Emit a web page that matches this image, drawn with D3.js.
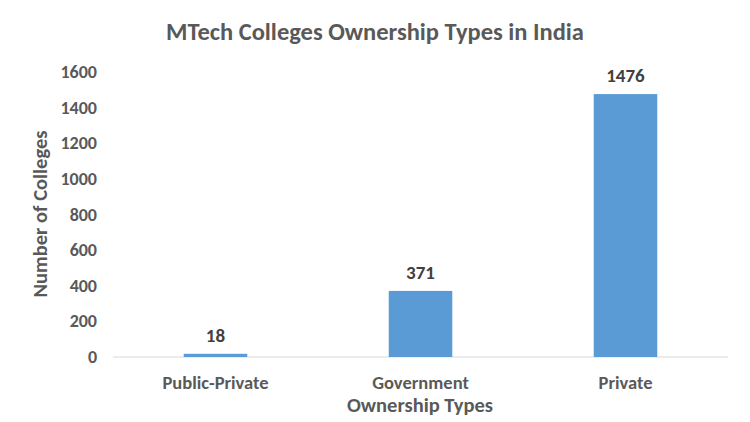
<!DOCTYPE html>
<html><head><meta charset="utf-8">
<script src="https://cdn.jsdelivr.net/npm/d3@7"></script>
<style>body{margin:0;background:#fff}text{font-family:Carlito,Lato,sans-serif;font-weight:bold;fill:#595959}</style>
</head><body><svg id="c" width="750" height="422"></svg>
<script>
const categories=["Public-Private","Government","Private"];
const values=[18,371,1476];
const yTicks=[0,200,400,600,800,1000,1200,1400,1600];
const svg=d3.select("#c");
const x=d3.scaleBand().domain(categories).range([113,728]).paddingInner(0.69).paddingOuter(0.345);
const y=d3.scaleLinear().domain([0,1600]).range([357,72]);
svg.append("text").attr("x",375).attr("y",40).attr("text-anchor","middle").style("font-size","24.5px").text("MTech Colleges Ownership Types in India");
svg.append("line").attr("x1",113).attr("x2",728).attr("y1",y(0)).attr("y2",y(0)).attr("stroke","#d9d9d9");
svg.selectAll(".yt").data(yTicks).join("text").attr("x",97).attr("y",d=>y(d)+6).attr("text-anchor","end").style("font-size","18px").text(d=>d);
svg.selectAll(".bar").data(values).join("rect").attr("x",(d,i)=>x(categories[i])).attr("width",x.bandwidth()).attr("y",d=>y(d)).attr("height",d=>y(0)-y(d)).attr("fill","#5b9bd5");
svg.selectAll(".vl").data(values).join("text").attr("x",(d,i)=>x(categories[i])+x.bandwidth()/2).attr("y",d=>y(d)-12).attr("text-anchor","middle").style("font-size","19px").style("fill","#404040").text(d=>d);
svg.selectAll(".xl").data(categories).join("text").attr("x",d=>x(d)+x.bandwidth()/2).attr("y",389).attr("text-anchor","middle").style("font-size","18.5px").text(d=>d);
svg.append("text").attr("x",420).attr("y",412).attr("text-anchor","middle").style("font-size","20.5px").text("Ownership Types");
svg.append("text").attr("transform","translate(47,214) rotate(-90)").attr("text-anchor","middle").style("font-size","20.5px").text("Number of Colleges");
</script></body></html>
